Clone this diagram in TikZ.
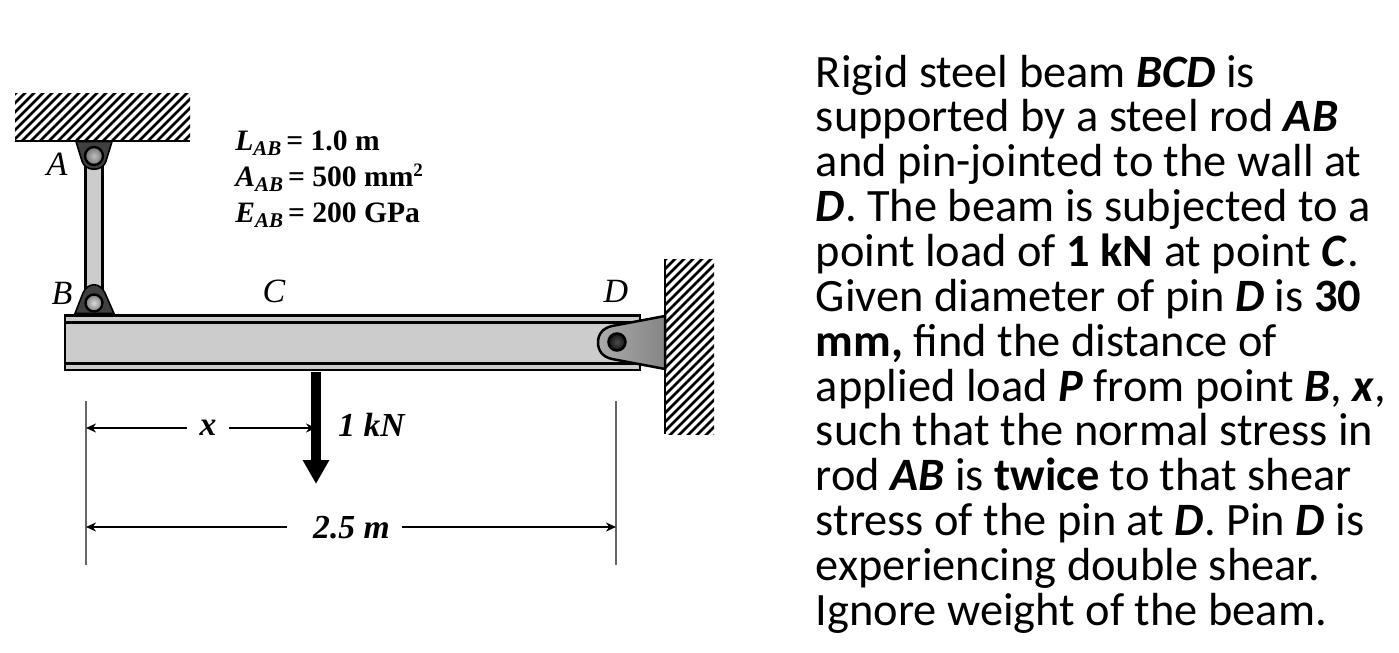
\documentclass[tikz,border=0pt]{standalone}
\usepackage{fontspec}
\setmainfont{Carlito}
\newfontfamily\timesf{Liberation Serif}
\usetikzlibrary{arrows.meta}
\definecolor{beamgray}{HTML}{CCCCCC}
\definecolor{lugdark}{HTML}{404040}
\tikzset{
  x=0.5pt,y=-0.5pt,
  outl/.style={draw=black,line width=1.25pt,line join=miter},
  hatchline/.style={line width=1.3pt,black},
  extline/.style={draw=black!60,line width=0.55pt},
  dimline/.style={draw=black,line width=0.75pt,{Stealth[length=5pt,width=4.5pt]}-},
  partlabel/.style={font=\timesf\itshape\fontsize{17}{17}\selectfont,inner sep=0pt},
  loadlabel/.style={font=\timesf\bfseries\itshape\fontsize{16.8}{16.8}\selectfont,inner sep=0pt},
  proplabel/.style={font=\timesf\bfseries\fontsize{14.8}{14.8}\selectfont,inner sep=0pt,anchor=base west},
}
\newcommand{\subAB}{\raisebox{-2.6pt}{\fontsize{10.5}{10.5}\selectfont\itshape AB}}
\begin{document}
\begin{tikzpicture}
\useasboundingbox (0,0) rectangle (1399,653);
\fill[white] (0,0) rectangle (1399,653);
% ceiling hatch
\begin{scope}
\clip (15,93) rectangle (190,141);
\foreach \c in {100,109,...,340} {\draw[hatchline] (0,\c) -- (300,\c-300);}
\end{scope}
\draw[black,line width=1.2pt] (15,141) -- (190,141);
% wall hatch
\begin{scope}
\clip (665,259) rectangle (714,434);
\foreach \c in {916,925,...,1156} {\draw[hatchline] (500,\c-500) -- (800,\c-800);}
\end{scope}
\draw[black,line width=1.2pt] (665,259) -- (665,434);
% rod
\draw[outl,fill=beamgray] (85.5,160) rectangle (102.5,295);
% bracket A
\draw[draw=black,line width=0.8pt,fill=lugdark] (76,141.5) -- (112,141.5) -- (106,161)
  .. controls (103,172) and (85,172) .. (82,161) -- cycle;
\shade[inner color=black!25,outer color=black!55,draw=black,line width=1.2pt] (94,156) circle [radius=9];
% bracket B
\draw[draw=black,line width=0.8pt,fill=lugdark] (75,313.5) -- (114,313.5) -- (105,293)
  .. controls (100,282) and (88,282) .. (83,293) -- cycle;
\shade[inner color=black!15,outer color=black!50,draw=black,line width=1.2pt] (94,303) circle [radius=8.5];
% beam
\draw[outl,fill=beamgray] (65,315.5) rectangle (640,370);
\draw[black,line width=1.25pt] (65,322.5) -- (640,322.5);
\draw[black,line width=1.25pt] (65,363.5) -- (640,363.5);
% lug D
\shade[left color=black!33,right color=black!48,draw=black,line width=1.25pt]
  (665,316) -- (612,326) .. controls (603,328) and (598,334) .. (598,342.5)
  .. controls (598,351) and (603,357) .. (612,359) -- (665,369) -- cycle;
\shade[inner color=black!70,outer color=black!92,draw=black,line width=1.25pt] (617,342) circle [radius=8.5];
% dimension reference lines
\coordinate (e1t) at (86,401); \coordinate (e1b) at (86,565);
\coordinate (e2t) at (616,401); \coordinate (e2b) at (616,565);
\draw[extline] (e1t) -- (e1b);
\draw[extline] (e2t) -- (e2b);
% load
\coordinate (loadtop) at (316,372); \coordinate (loadtip) at (316,484);
\draw[black,line width=4.6pt,-{Triangle[length=12pt,width=12.5pt]}] (loadtop) -- (loadtip);
% dimension labels and lines
\node[loadlabel,minimum width=21pt,text height=7pt,text depth=0pt] (xl) at (208,428) {x};
\node[loadlabel,minimum width=57.5pt,text height=11pt,text depth=0pt] (lenl) at (344.5,527) {\hspace*{7pt}2.5 m};
\coordinate (xa) at (86,428); \coordinate (xb) at (316,428);
\coordinate (la) at (86,527); \coordinate (lb) at (616,527);
\draw[dimline] (xa) -- (xl);
\draw[dimline] (xb) -- (xl);
\draw[dimline] (la) -- (lenl);
\draw[dimline] (lb) -- (lenl);
\node[loadlabel,anchor=base west] (load) at (338,436) {1 kN};
% part labels
\node[partlabel] (A) at (57,164) {A};
\node[partlabel] (B) at (62,293) {B};
\node[partlabel] (C) at (274,291) {C};
\node[partlabel] (D) at (616,291) {D};
% properties
\node[proplabel] (p1) at (235,150) {\textit{L}\subAB\,= 1.0 m};
\node[proplabel] (p2) at (235,186) {\textit{A}\subAB\,= 500 mm\raisebox{5pt}{\fontsize{9.5}{9.5}\selectfont 2}};
\node[proplabel] (p3) at (235,222) {\textit{E}\subAB\,= 200 GPa};
% description
\node[anchor=north west,inner sep=0pt,align=left,font=\fontsize{23.2}{22.42}\selectfont] (desc) at (815.5,54.5) {%
Rigid steel beam \textbf{\textit{BCD}} is\\
supported by a steel rod \textbf{\textit{AB}}\\
and pin-jointed to the wall at\\
\textbf{\textit{D}}. The beam is subjected to a\\
point load of \textbf{1 kN} at point \textbf{\textit{C}}.\\
Given diameter of pin \textbf{\textit{D}} is \textbf{30}\\
\textbf{mm,} find the distance of\\
applied load \textbf{\textit{P}} from point \textbf{\textit{B}}, \textbf{\textit{x}},\\
such that the normal stress in\\
rod \textbf{\textit{AB}} is \textbf{twice} to that shear\\
stress of the pin at \textbf{\textit{D}}. Pin \textbf{\textit{D}} is\\
experiencing double shear.\\
Ignore weight of the beam.};
\end{tikzpicture}
\end{document}
